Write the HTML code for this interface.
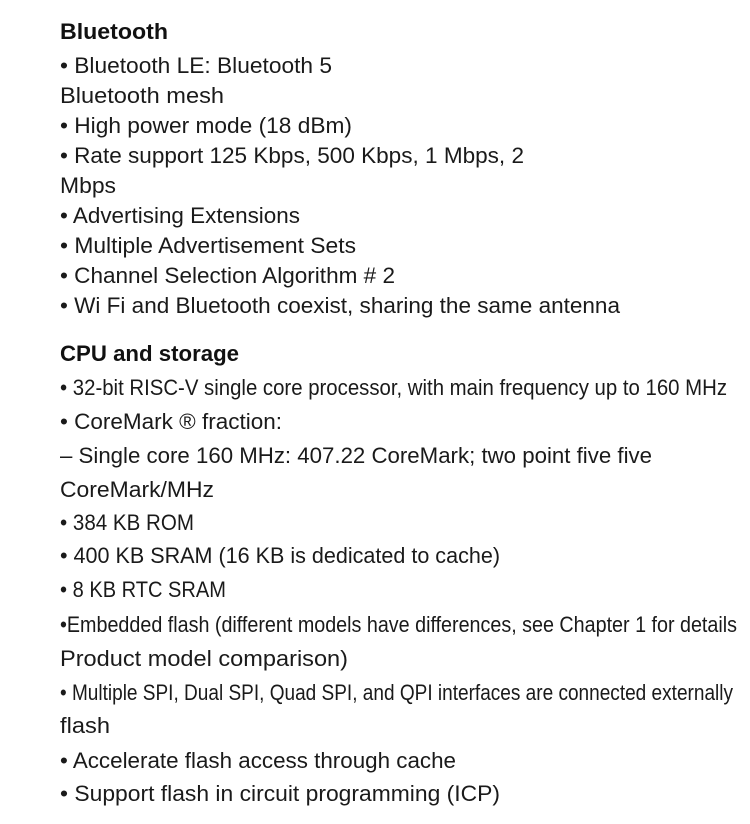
<!DOCTYPE html>
<html><head><meta charset="utf-8"><style>
html,body{margin:0;padding:0;background:#fff;width:750px;height:824px;overflow:hidden}
svg text{font-family:"Liberation Sans","Noto Sans CJK SC",sans-serif;font-size:22px;fill:#1a1a1a}
svg text.h{font-weight:bold;fill:#111}
</style></head><body>
<svg width="750" height="824" xmlns="http://www.w3.org/2000/svg">
<text class="h" x="60" y="39" textLength="108" lengthAdjust="spacingAndGlyphs">Bluetooth</text>
<text x="60" y="73" textLength="272" lengthAdjust="spacingAndGlyphs">• Bluetooth LE: Bluetooth 5</text>
<text x="60" y="103" textLength="164" lengthAdjust="spacingAndGlyphs">Bluetooth mesh</text>
<text x="60" y="133" textLength="292" lengthAdjust="spacingAndGlyphs">• High power mode (18 dBm)</text>
<text x="60" y="163" textLength="464" lengthAdjust="spacingAndGlyphs">• Rate support 125 Kbps, 500 Kbps, 1 Mbps, 2</text>
<text x="60" y="193" textLength="56" lengthAdjust="spacingAndGlyphs">Mbps</text>
<text x="60" y="223" textLength="240" lengthAdjust="spacingAndGlyphs">• Advertising Extensions</text>
<text x="60" y="253" textLength="296" lengthAdjust="spacingAndGlyphs">• Multiple Advertisement Sets</text>
<text x="60" y="283" textLength="335" lengthAdjust="spacingAndGlyphs">• Channel Selection Algorithm # 2</text>
<text x="60" y="313" textLength="560" lengthAdjust="spacingAndGlyphs">• Wi Fi and Bluetooth coexist, sharing the same antenna</text>
<text class="h" x="60" y="361" textLength="179" lengthAdjust="spacingAndGlyphs">CPU and storage</text>
<text x="60" y="395" textLength="667" lengthAdjust="spacingAndGlyphs">• 32-bit RISC-V single core processor, with main frequency up to 160 MHz</text>
<text x="60" y="429" textLength="222" lengthAdjust="spacingAndGlyphs">• CoreMark ® fraction:</text>
<text x="60" y="463" textLength="592" lengthAdjust="spacingAndGlyphs">– Single core 160 MHz: 407.22 CoreMark; two point five five</text>
<text x="60" y="497" textLength="154" lengthAdjust="spacingAndGlyphs">CoreMark/MHz</text>
<text x="60" y="530" textLength="134" lengthAdjust="spacingAndGlyphs">• 384 KB ROM</text>
<text x="60" y="563" textLength="440" lengthAdjust="spacingAndGlyphs">• 400 KB SRAM (16 KB is dedicated to cache)</text>
<text x="60" y="597" textLength="166" lengthAdjust="spacingAndGlyphs">• 8 KB RTC SRAM</text>
<text x="60" y="632" textLength="677" lengthAdjust="spacingAndGlyphs">•Embedded flash (different models have differences, see Chapter 1 for details</text>
<text x="60" y="666" textLength="288" lengthAdjust="spacingAndGlyphs">Product model comparison)</text>
<text x="60" y="700" textLength="673" lengthAdjust="spacingAndGlyphs">• Multiple SPI, Dual SPI, Quad SPI, and QPI interfaces are connected externally</text>
<text x="60" y="733" textLength="50" lengthAdjust="spacingAndGlyphs">flash</text>
<text x="60" y="768" textLength="396" lengthAdjust="spacingAndGlyphs">• Accelerate flash access through cache</text>
<text x="60" y="801" textLength="440" lengthAdjust="spacingAndGlyphs">• Support flash in circuit programming (ICP)</text>
</svg>
</body></html>
